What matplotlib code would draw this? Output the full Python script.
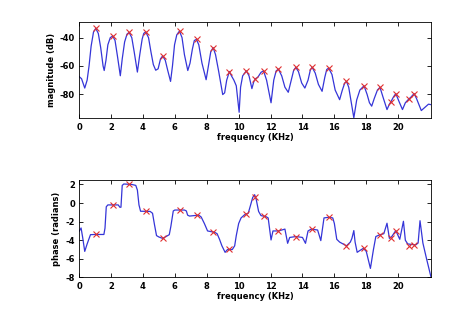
import matplotlib
matplotlib.use("Agg")
import matplotlib.pyplot as plt
import numpy as np

plt.rcParams['axes.unicode_minus'] = False

# magnitude response (KHz, dB)
mag_freq = [0.0, 0.15, 0.35, 0.5, 0.62, 0.75, 0.9, 1.04, 1.2, 1.35, 1.5, 1.57, 1.68, 1.8, 1.95,
            2.1, 2.25, 2.4, 2.58, 2.7, 2.85, 3.0, 3.13, 3.3, 3.45, 3.65, 3.8, 3.95, 4.05, 4.17,
            4.35, 4.5, 4.65, 4.8, 4.95, 5.1, 5.23, 5.4, 5.55, 5.73, 5.85, 5.98, 6.12, 6.29, 6.45,
            6.6, 6.81, 6.95, 7.1, 7.22, 7.35, 7.5, 7.7, 7.96, 8.1, 8.25, 8.4, 8.55, 8.75, 9.0,
            9.12, 9.25, 9.42, 9.55, 9.7, 9.85, 10.03, 10.12, 10.25, 10.48, 10.65, 10.83, 10.95,
            11.05, 11.2, 11.4, 11.56, 11.75, 12.03, 12.2, 12.35, 12.49, 12.7, 12.9, 13.11, 13.3,
            13.45, 13.58, 13.75, 13.95, 14.15, 14.35, 14.5, 14.61, 14.8, 15.0, 15.23, 15.4, 15.52,
            15.64, 15.85, 16.05, 16.33, 16.5, 16.65, 16.76, 16.9, 17.05, 17.22, 17.4, 17.6, 17.86,
            18.05, 18.2, 18.34, 18.5, 18.7, 18.86, 19.05, 19.3, 19.45, 19.54, 19.7, 19.85, 20.05,
            20.27, 20.45, 20.67, 20.8, 21.0, 21.15, 21.45, 21.7, 21.9, 22.05]
mag_db = [-67.5, -69, -75.6, -70, -60, -46, -36, -33.4, -37, -47, -60, -63.2, -56, -45, -40,
          -38.8, -42, -53, -66.9, -55, -43, -37.5, -36.3, -40, -50, -64.3, -52, -41, -37, -35.8,
          -40, -50, -59, -63, -62, -55, -52.9, -56, -63, -70.9, -60, -45, -38, -35.3, -40,
          -52, -63.2, -58, -48, -42, -41.2, -45, -58, -69.7, -60, -50, -47, -52, -64, -80.2,
          -79, -70, -63.9, -67, -70, -74, -92.7, -75, -67, -63.4, -67, -76, -71,
          -69, -68, -64.5, -63.4, -70, -86, -70, -63.5, -62.2, -67, -75, -78.6, -70,
          -63, -61, -64, -72, -75.6, -70, -62.5, -61, -65, -73, -77.9, -68, -62.5,
          -61.5, -66, -77, -83.8, -77, -72, -70.9, -75, -85, -96.6, -84, -77, -74,
          -80, -86, -88.4, -83, -77, -75.1, -82, -90.8, -87, -85.4, -82, -79.5, -85,
          -90.8, -86, -83.3, -82, -79.5, -83, -91.5, -89, -87, -87.3]

# phase response (KHz, radians)
ph_freq = [0.0, 0.12, 0.22, 0.35, 0.5, 0.71, 1.0, 1.55, 1.62, 1.7, 1.8, 2.45, 2.55, 2.62, 2.7,
           2.8, 3.3, 3.55, 3.65, 3.75, 3.85, 4.45, 4.6, 4.72, 4.85, 5.0, 5.23, 5.45, 5.65, 5.75,
           5.9, 6.0, 6.6, 6.72, 6.8, 6.92, 7.5, 7.65, 7.85, 8.05, 8.5, 8.65, 8.8, 8.95, 9.15,
           9.3, 9.6, 9.75, 9.85, 10.0, 10.15, 10.41, 10.6, 10.75, 10.88, 11.0, 11.1, 11.25, 11.4,
           11.7, 11.85, 12.03, 12.15, 12.5, 12.9, 13.07, 13.2, 13.6, 14.0, 14.19, 14.35, 14.55,
           14.95, 15.15, 15.35, 15.64, 15.9, 16.0, 16.15, 16.33, 16.76, 17.0, 17.1, 17.22, 17.3,
           17.43, 17.6, 17.82, 18.0, 18.26, 18.45, 18.6, 18.86, 19.1, 19.3, 19.45, 19.6, 19.85,
           20.1, 20.33, 20.45, 20.6, 21.1, 21.25, 21.37, 21.55, 21.78, 22.05]
ph_rad = [-3.04, -2.68, -3.7, -5.2, -4.4, -3.4, -3.38, -3.38, -2.7, -0.4, -0.2, -0.2, -0.45, -0.45, 1.9,
          2.05, 2.0, 1.9, 1.4, -0.2, -0.88, -0.9, -1.1, -2.3, -3.5, -3.65, -3.8, -3.6, -3.4, -2.5,
          -0.85, -0.75, -0.75, -0.85, -1.3, -1.4, -1.3, -1.5, -2.2, -3.0, -3.15, -3.3, -3.9, -4.6, -5.3,
          -5.0, -5.0, -4.6, -3.5, -2.2, -1.6, -1.2, -1.1, -0.2, 0.6, 0.9, 0.4, -0.9, -1.35,
          -1.45, -1.6, -3.97, -3.0, -3.0, -2.8, -4.33, -3.7, -3.6, -3.7, -4.33, -3.0, -2.8,
          -2.9, -4.04, -1.6, -1.53, -1.6, -2.2, -3.9, -4.2, -4.6, -4.2, -3.8, -2.96, -4.2,
          -5.3, -5.1, -4.87, -5.2, -7.03, -5.0, -3.6, -3.4, -3.3, -2.17, -3.8, -3.6, -2.96,
          -3.9, -1.96, -4.0, -4.4, -4.5, -4.3, -1.9, -4.3, -6.0, -7.9]

# detected peaks (red crosses)
peak_freq = [1.05, 2.1, 3.13, 4.18, 5.23, 6.3, 7.36, 8.39, 9.42, 10.48, 11.05, 11.56,
             12.49, 13.58, 14.61, 15.64, 16.76, 17.84, 18.86, 19.54, 19.85, 20.67, 21.0]
peak_db = [-33.4, -38.8, -36.3, -35.8, -52.9, -35.3, -41.2, -47, -63.9, -63.4, -69, -63.4,
           -62.2, -61, -61, -61.5, -70.9, -74, -75.1, -85.4, -79.5, -83.3, -79.5]
peak_ph = [-3.36, -0.2, 2.0, -0.9, -3.8, -0.73, -1.27, -3.15, -4.94, -1.17, 0.63, -1.42,
           -3.04, -3.6, -2.8, -1.53, -4.6, -4.87, -3.4, -3.8, -2.96, -4.6, -4.5]

line_col = '#3535d8'
fs = 6

fig = plt.figure(figsize=(4.74, 3.26), dpi=100)
ax1 = fig.add_axes([0.167, 0.637, 0.742, 0.296])
ax2 = fig.add_axes([0.167, 0.149, 0.742, 0.298])

ax1.plot(mag_freq, mag_db, color=line_col, lw=0.9)
ax1.plot(peak_freq, peak_db, 'x', color='#e03030', ms=4.5, mew=0.8)
ax1.set_xlim(0, 22.05)
ax1.set_ylim(-97, -28.8)
ax1.set_yticks([-80, -60, -40])

ax2.plot(ph_freq, ph_rad, color=line_col, lw=0.9)
ax2.plot(peak_freq, peak_ph, 'x', color='#e03030', ms=4.5, mew=0.8)
ax2.set_xlim(0, 22.05)
ax2.set_ylim(-8, 2.45)
ax2.set_yticks([-8, -6, -4, -2, 0, 2])

for ax, lab in [(ax1, 'magnitude (dB)'), (ax2, 'phase (radians)')]:
    ax.set_xticks(np.arange(0, 21, 2))
    ax.tick_params(direction='in', length=3, width=0.6, top=True, right=True,
                   labelsize=fs, pad=3)
    for t in ax.get_xticklabels() + ax.get_yticklabels():
        t.set_fontweight('bold')
    for s in ax.spines.values():
        s.set_linewidth(0.6)
    ax.set_xlabel('frequency (KHz)', fontsize=fs, fontweight='bold', labelpad=1)
    ax.set_ylabel(lab, fontsize=fs, fontweight='bold', labelpad=3)

fig.savefig('out.png', dpi=100)
